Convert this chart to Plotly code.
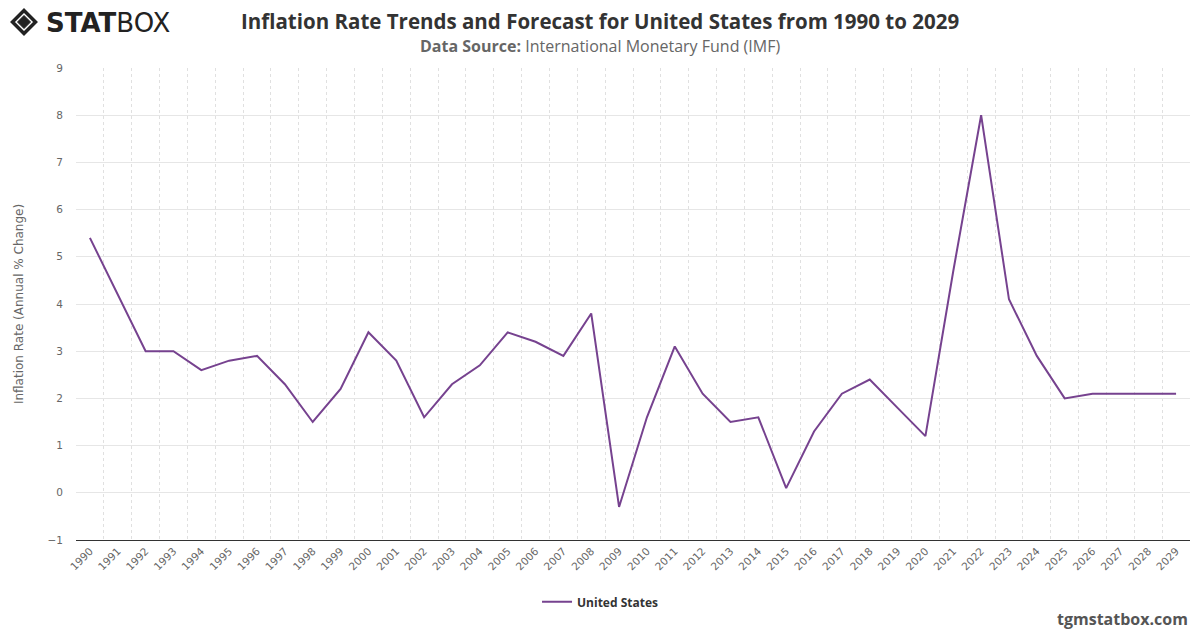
import plotly.graph_objects as go

years = list(range(1990, 2030))
inflation = [5.4, 4.2, 3.0, 3.0, 2.6, 2.8, 2.9, 2.3, 1.5, 2.2,
             3.4, 2.8, 1.6, 2.3, 2.7, 3.4, 3.2, 2.9, 3.8, -0.3,
             1.6, 3.1, 2.1, 1.5, 1.6, 0.1, 1.3, 2.1, 2.4, 1.8,
             1.2, 4.7, 8.0, 4.1, 2.9, 2.0, 2.1, 2.1, 2.1, 2.1]
series_name = "United States"
y_ticks = list(range(-1, 10))
title_text = "<b>Inflation Rate Trends and Forecast for United States from 1990 to 2029</b>"
subtitle_text = "<b>Data Source:</b> International Monetary Fund (IMF)"

LINE = "#76428f"
FONT = "Open Sans"

fig = go.Figure()
fig.add_trace(go.Scatter(x=years, y=inflation, mode="lines", name=series_name,
                         line=dict(color=LINE, width=2)))

# page body has an 8px margin, so the figure is 8px smaller to fit the 1200x630 window
fig.update_layout(
    width=1192, height=622,
    paper_bgcolor="white", plot_bgcolor="white",
    margin=dict(l=68, r=10, t=60, b=90, autoexpand=False),
    showlegend=True,
    legend=dict(orientation="h", x=0.4704, xanchor="center", y=-0.131, yanchor="middle",
                font=dict(family=FONT, size=12, color="#333333", weight="bold"), itemwidth=30),
)

fig.update_xaxes(
    type="linear", range=[1989.5, 2029.5], automargin=False,
    tickmode="array", tickvals=years, ticktext=[str(y) for y in years],
    tickangle=-45, tickfont=dict(family="DejaVu Sans", size=10.5, color="#666666"),
    showgrid=False, zeroline=False,
    showline=True, linecolor="#333333", linewidth=1,
    ticks="",
    minor=dict(tick0=1989.5, dtick=1, showgrid=True, gridcolor="#e0e0e0", griddash="dot", gridwidth=1),
)
fig.update_yaxes(
    range=[-1, 9], automargin=False, tickmode="array", tickvals=y_ticks,
    ticktext=["\u22121" if v < 0 else str(v) for v in y_ticks],
    tickfont=dict(family="DejaVu Sans", size=10.5, color="#666666"),
    showgrid=True, gridcolor="#e6e6e6", gridwidth=1, zeroline=False,
    showline=False, ticks="", ticklabelstandoff=12,
    title=dict(text="Inflation Rate (Annual % Change)", standoff=21,
               font=dict(family="DejaVu Sans", size=12, color="#666666")),
)

# Title
fig.add_annotation(xref="paper", yref="paper", x=0.4704, y=1.0, yshift=47, xanchor="center", yanchor="middle",
                   text=title_text, showarrow=False, borderpad=0,
                   font=dict(family=FONT, size=20.5, color="#333333"))

# Subtitle
fig.add_annotation(xref="paper", yref="paper", x=0.4704, y=1.0, yshift=22, xanchor="center", yanchor="middle",
                   text=subtitle_text, showarrow=False,
                   font=dict(family=FONT, size=16, color="#666666"))

# Logo
fig.add_shape(type="path", xref="paper", yref="paper", xsizemode="pixel", ysizemode="pixel",
              xanchor=0, yanchor=1,
              path="M -52 57.5 L -40.5 46 L -52 34.5 L -63.5 46 Z",
              line=dict(color="#222222", width=3.5), fillcolor="rgba(0,0,0,0)")
fig.add_shape(type="path", xref="paper", yref="paper", xsizemode="pixel", ysizemode="pixel",
              xanchor=0, yanchor=1,
              path="M -52 52.5 L -45.5 46 L -52 39.5 L -58.5 46 Z",
              line=dict(color="#222222", width=1), fillcolor="#222222")
fig.add_annotation(xref="paper", yref="paper", x=0, y=1, xshift=-32, yshift=45, xanchor="left", yanchor="middle",
                   text="<b>STAT</b>BOX", showarrow=False,
                   font=dict(family="DejaVu Sans", size=26, color="#222222"))

# Watermark
fig.add_annotation(xref="paper", yref="paper", x=1, y=0, xshift=0, yshift=-79, xanchor="right", yanchor="middle",
                   text="<b>tgmstatbox.com</b>", showarrow=False,
                   font=dict(family=FONT, size=16, color="#555555"))

fig.write_html("out.html")
